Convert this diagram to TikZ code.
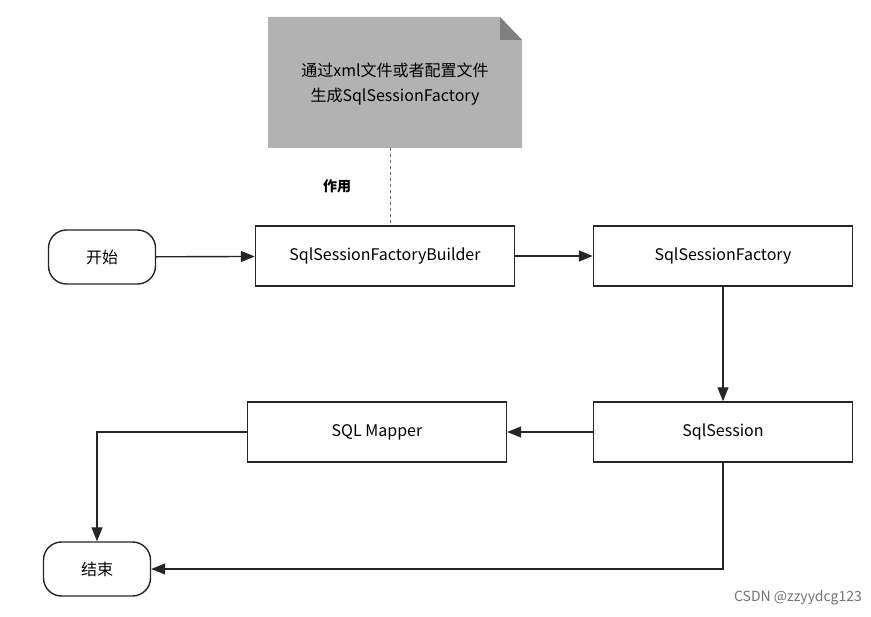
\documentclass[tikz,border=0pt]{standalone}
\usepackage{fontspec}
\setmainfont{Noto Sans CJK SC}
\usetikzlibrary{arrows.meta}
\begin{document}
\begin{tikzpicture}[x=1pt,y=-1pt,
  box/.style={draw=black!85,line width=1.4pt,minimum width=259pt,minimum height=60pt,font=\fontsize{16}{18}\selectfont,fill=white},
  term/.style={draw=black!85,line width=1.4pt,rounded corners=18pt,minimum width=107pt,minimum height=54pt,font=\fontsize{16}{18}\selectfont},
  arr/.style={line width=1.4pt,draw=black!85,-{Triangle[length=14pt,width=11pt]}}]
\useasboundingbox (0,0) rectangle (871,617);
\fill[black!30] (268,17) -- (500,17) -- (522,40) -- (522,148) -- (268,148) -- cycle;
\fill[black!50] (500,17) -- (500,40) -- (522,40) -- cycle;
\node[align=center,font=\fontsize{16}{25}\selectfont] (note) at (395,84) {通过xml文件或者配置文件\\生成SqlSessionFactory};
\coordinate (nb) at (390,148);
\node[term] (start) at (102,257) {开始};
\node[box] (builder) at (385,256) {SqlSessionFactoryBuilder};
\node[box] (factory) at (723,256) {SqlSessionFactory};
\node[box] (session) at (723,432) {SqlSession};
\node[box] (mapper) at (377,432) {SQL Mapper};
\node[term] (end) at (97,569) {结束};
\node[font=\bfseries\fontsize{14}{16}\selectfont] (lbl) at (337,186) {作用};
\node[font=\fontsize{14}{16}\selectfont,text=black!55] (wm) at (798,598) {CSDN @zzyydcg123};
\draw[dashed,black!60,line width=1pt] (nb) -- (builder.north -| nb);
\draw[arr] (start) -- (builder);
\draw[arr] (builder) -- (factory);
\draw[arr] (factory) -- (session);
\draw[arr] (session) -- (mapper);
\draw[arr] (mapper.west) -| (end.north);
\draw[arr] (session.south) |- (end.east);
\end{tikzpicture}
\end{document}
